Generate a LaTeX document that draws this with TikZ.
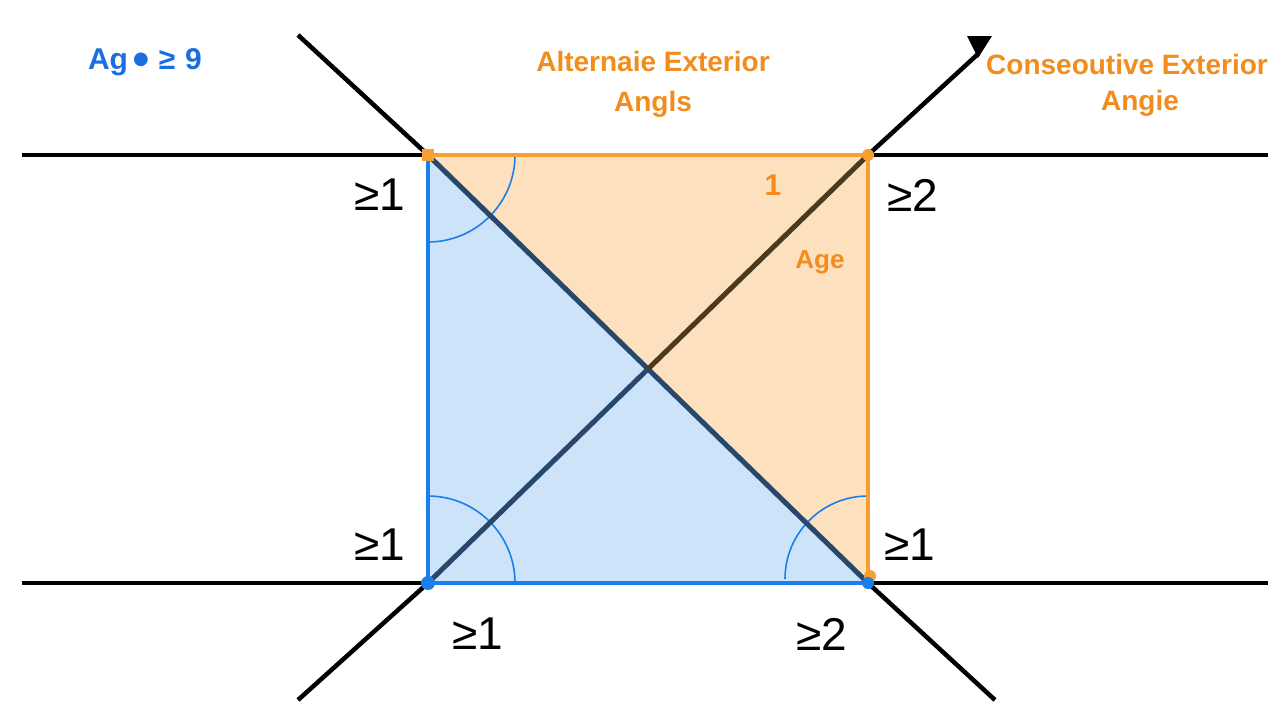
\documentclass[tikz,border=0pt]{standalone}
\usepackage{fontspec}
\setmainfont{Liberation Sans}
\newfontfamily\symfont{DejaVu Sans}
\definecolor{bl}{HTML}{1A7FEA}
\definecolor{blfill}{HTML}{CCE3F9}
\definecolor{orl}{HTML}{F5A030}
\definecolor{orfill}{HTML}{FDE1BF}
\definecolor{ortext}{HTML}{F28C1C}
\definecolor{navy}{HTML}{27486A}
\definecolor{brownish}{HTML}{4A3A20}
\definecolor{bltext}{HTML}{1A6FE0}
\tikzset{
  blackline/.style={line width=4.5pt, black},
  angtext/.style={font=\fontsize{46}{46}\selectfont, text=black, inner sep=0pt},
  ortxt/.style={font=\bfseries\fontsize{28}{40}\selectfont, text=ortext, align=center, inner sep=0pt},
  arcline/.style={line width=1.6pt, bl},
}
\begin{document}
\begin{tikzpicture}[x=1pt,y=-1pt]
\useasboundingbox (0,0) rectangle (1280,720);
\fill[white] (0,0) rectangle (1280,720);
% corners
\coordinate (TL) at (428,155);
\coordinate (TR) at (868,155);
\coordinate (BL) at (428,583);
\coordinate (BR) at (868,583);
\coordinate (C) at (648,369);
% fills
\fill[blfill] (TL) -- (BL) -- (BR) -- cycle;
\fill[orfill] (TL) -- (TR) -- (BR) -- cycle;
% parallel lines
\coordinate (L1a) at (22,155);
\coordinate (L1b) at (1268,155);
\coordinate (L2a) at (22,583);
\coordinate (L2b) at (1268,583);
\draw[blackline] (L1a) -- (TL);
\draw[blackline] (TR) -- (L1b);
\draw[blackline] (L2a) -- (BL);
\draw[blackline] (BR) -- (L2b);
% transversal extensions
\coordinate (E1) at (298,35);
\coordinate (E2) at (995,700);
\coordinate (E3) at (298,700);
\coordinate (E4) at (978,54);
\draw[blackline] (E1) -- (TL);
\draw[blackline] (BR) -- (E2);
\draw[blackline] (E3) -- (BL);
\draw[blackline] (TR) -- (E4);
\fill[black] (967,36) -- (992,36) -- (978,58) -- cycle;
% arcs
\draw[arcline] (515,155) arc[start angle=0, end angle=90, radius=87];
\draw[arcline] (428,496) arc[start angle=-90, end angle=0, radius=87];
\draw[arcline] (868,496) arc[start angle=-90, end angle=-180, radius=83];
% square sides
\draw[line width=4pt, bl] (TL) -- (BL) -- (BR);
\draw[line width=4pt, orl] (TL) -- (TR) -- (BR);
% diagonals
\draw[line width=5pt, navy] (TL) -- (BR);
\draw[line width=5pt, navy] (BL) -- (C);
\draw[line width=5pt, brownish] (C) -- (TR);
% corner dots
\fill[orl] (422,149) rectangle (434,161);
\fill[orl] (TR) circle (6);
\fill[bl] (BL) circle (7);
\fill[orl] (BR) ++(2,-7) circle (6);
\fill[bl] (BR) circle (6);
% texts
\node[font=\bfseries\fontsize{30}{30}\selectfont, text=bltext, inner sep=0pt] (t0) at (145,62) {Ag\,\raisebox{5pt}{\symfont\fontsize{18}{18}\selectfont ●}\,\,≥\,\,9};
\node[ortxt] (t1) at (653,84) {Alternaie Exterior\\Angls};
\node[ortxt, anchor=west] (t2) at (986,64) {Conseoutive Exterior};
\node[ortxt] (t3) at (1140,103) {Angie};
\node[font=\bfseries\fontsize{30}{30}\selectfont, text=ortext, inner sep=0pt] (t4) at (773,185) {1};
\node[font=\bfseries\fontsize{26}{26}\selectfont, text=ortext, inner sep=0pt] (t5) at (820,262) {Age};
\node[angtext] (a1) at (380,195) {≥1};
\node[angtext] (a2) at (913,195) {≥2};
\node[angtext] (a3) at (380,545) {≥1};
\node[angtext] (a4) at (910,545) {≥1};
\node[angtext] (a5) at (478,634) {≥1};
\node[angtext] (a6) at (822,634) {≥2};
\end{tikzpicture}
\end{document}
